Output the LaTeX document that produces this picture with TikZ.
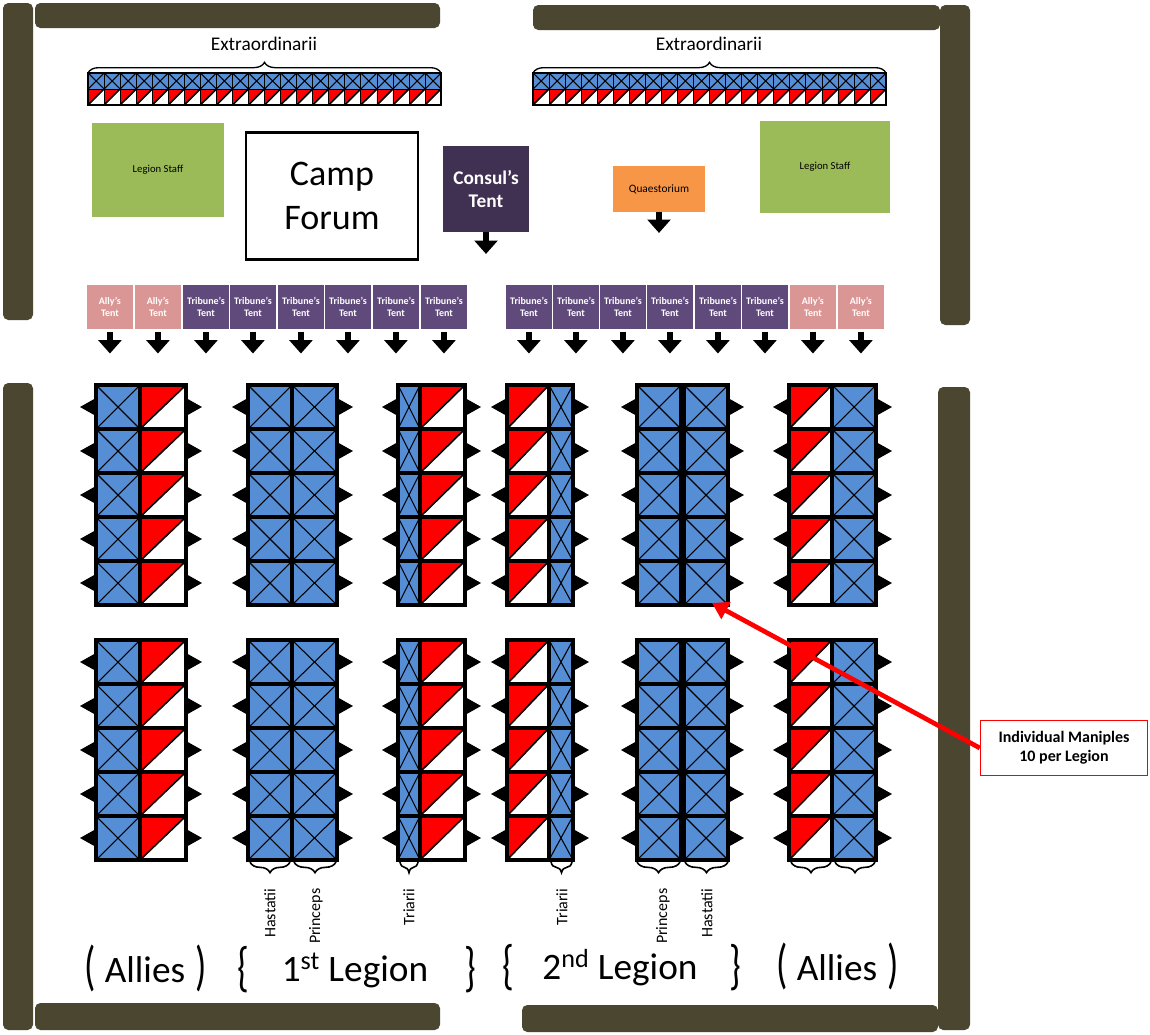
\documentclass[tikz,border=0pt]{standalone}
\usepackage{fontspec}
\setmainfont{Carlito}
\usetikzlibrary{arrows.meta,decorations.pathreplacing,calc}
\definecolor{wall}{HTML}{4B4630}
\definecolor{blu}{HTML}{558ED5}
\definecolor{grn}{HTML}{9BBB59}
\definecolor{purp}{HTML}{604A7B}
\definecolor{dpurp}{HTML}{403152}
\definecolor{pink}{HTML}{D99694}
\definecolor{orng}{HTML}{F79646}
\newcommand\bcell[4]{\fill[blu] (#1,#2) rectangle (#3,#4); \draw[line width=0.8pt] (#1,#2)--(#3,#4) (#1,#4)--(#3,#2);}
\newcommand\rcell[4]{\fill[white] (#1,#2) rectangle (#3,#4); \fill[red] (#1,#2)--(#3,#2)--(#1,#4)--cycle; \draw[line width=1.2pt] (#3,#2)--(#1,#4);}
% column: x1 x2 type(b/r) ytop
\newcommand\mcol[4]{\foreach \k in {0,...,4}{\pgfmathsetmacro\ya{#4+44*\k}\pgfmathsetmacro\yb{#4+44*\k+44}
  \ifx#3b\bcell{#1}{\ya}{#2}{\yb}\else\rcell{#1}{\ya}{#2}{\yb}\fi
  \draw[line width=3pt] (#1,\ya) rectangle (#2,\yb);}}
\newcommand\spikes[3]{\foreach \k in {0,...,4}{\pgfmathsetmacro\yc{#3+22+44*\k}
  \fill (#1,\yc-9)--(#1-16,\yc)--(#1,\yc+9)--cycle; \fill (#2,\yc-9)--(#2+16,\yc)--(#2,\yc+9)--cycle;}}
\begin{document}
\begin{tikzpicture}[x=0.75pt,y=-0.75pt,
  wallr/.style={fill=wall,rounded corners=4pt},
  tent/.style={minimum width=34pt,minimum height=33pt,inner sep=0pt,text=white,font=\fontsize{7.5}{9}\selectfont\bfseries,align=center,anchor=north west},
  darr/.style={-{Triangle[length=10pt,width=17pt]},line width=4pt},
  brc/.style={decorate,decoration={brace,amplitude=8pt},line width=1.2pt},
  lab/.style={rotate=90,anchor=east,font=\fontsize{12}{14}\selectfont},
  big/.style={font=\fontsize{28}{32}\selectfont},
  par/.style={font=\fontsize{28}{32}\selectfont,yscale=1.45}]
\useasboundingbox (0,0) rectangle (1150,1035);
\fill[white] (0,0) rectangle (1150,1035);
% walls
\fill[wallr] (35,3) rectangle (440,28);
\fill[wallr] (3,3) rectangle (33,320);
\fill[wallr] (533,5) rectangle (940,30);
\fill[wallr] (940,5) rectangle (970,325);
\fill[wallr] (3,383) rectangle (33,1030);
\fill[wallr] (35,1003) rectangle (440,1030);
\fill[wallr] (522,1005) rectangle (938,1032);
\fill[wallr] (938,387) rectangle (970,1030);
% extraordinarii
\foreach \xo in {88,533}{
  \foreach \i in {0,...,21}{\pgfmathsetmacro\xa{\xo+16.05*\i}\pgfmathsetmacro\xb{\xo+16.05*\i+16.05}
    \bcell{\xa}{73}{\xb}{89}\rcell{\xa}{89}{\xb}{105}
    \draw[line width=0.6pt] (\xa,73) rectangle (\xb,105) (\xa,89)--(\xb,89);}
  \draw[line width=0.8pt] (\xo,73) rectangle (\xo+353,105);
  \draw[brc,line width=1pt] (\xo,73)--(\xo+353,73);
  \node[font=\fontsize{14.5}{16}\selectfont] at (\xo+176,44) {Extraordinarii};
}
% staff, forum etc
\node[fill=grn,minimum width=99pt,minimum height=70pt,font=\fontsize{8}{9}\selectfont] (ls1) at (158,170) {Legion Staff};
\node[fill=grn,minimum width=98pt,minimum height=69pt,font=\fontsize{8}{9}\selectfont] (ls2) at (825,167) {Legion Staff};
\node[draw,line width=2.2pt,minimum width=129pt,minimum height=95pt,align=center,font=\fontsize{27}{33}\selectfont] (forum) at (332,196) {Camp\\Forum};
\node[fill=dpurp,text=white,minimum width=64pt,minimum height=64pt,align=center,font=\fontsize{14.5}{17}\selectfont\bfseries] (consul) at (486,189) {Consul's\\Tent};
\draw[darr] (consul.south)--++(0,22);
\node[fill=orng,minimum width=69pt,minimum height=34pt,font=\fontsize{8.5}{10}\selectfont] (q) at (659,189) {Quaestorium};
\draw[darr] (q.south)--++(0,21);
% tents
\foreach \x/\t/\c [count=\n] in {87/Ally/pink,135/Ally/pink,183/Tribune/purp,230/Tribune/purp,278/Tribune/purp,325/Tribune/purp,373/Tribune/purp,421/Tribune/purp,506/Tribune/purp,553/Tribune/purp,600/Tribune/purp,647/Tribune/purp,695/Tribune/purp,742/Tribune/purp,790/Ally/pink,838/Ally/pink}{
  \node[tent,fill=\c] (t\n) at (\x,285) {\t's\\Tent};
  \draw[darr] (t\n.south)++(0,2)--++(0,22);
}
% maniples
\foreach \y in {385,640}{
  \mcol{96}{140}{b}{\y}\mcol{140}{186}{r}{\y}\spikes{96}{186}{\y}
  \mcol{248}{292}{b}{\y}\mcol{292}{337}{b}{\y}\spikes{248}{337}{\y}
  \mcol{398}{420}{b}{\y}\mcol{420}{465}{r}{\y}\spikes{398}{465}{\y}
  \mcol{507}{549}{r}{\y}\mcol{549}{573}{b}{\y}\spikes{507}{573}{\y}
  \mcol{637}{681}{b}{\y}\mcol{684}{728}{b}{\y}\spikes{637}{728}{\y}
  \mcol{789}{832}{r}{\y}\mcol{832}{876}{b}{\y}\spikes{789}{876}{\y}
}
% lower braces and labels
\foreach \a/\b in {250/290,294/336,400/418,551/572,637/680,685/728,791/831,835/875}{
  \draw[brc] (\b,862)--(\a,862);}
\node[lab] at (270,884) {Hastatii};
\node[lab] at (316,884) {Princeps};
\node[lab] at (409,884) {Triarii};
\node[lab] at (562,884) {Triarii};
\node[lab] at (663,884) {Princeps};
\node[lab] at (707,884) {Hastatii};
% bottom labels
\node[big] at (145,970) {Allies};
\node[par] at (90,968) {(};
\node[par] at (201,968) {)};
\node[big] at (837,968) {Allies};
\node[par] at (782,966) {(};
\node[par] at (893,966) {)};
\node[par] at (243,970) {\{};
\node[par] at (470,970) {\}};
\node[big] at (355,970) {1\textsuperscript{st} Legion};
\node[par] at (508,968) {\{};
\node[par] at (735,968) {\}};
\node[big] at (620,968) {2\textsuperscript{nd} Legion};
% callout
\node[draw=red,line width=1.2pt,fill=white,minimum width=125pt,minimum height=41pt,align=center,font=\fontsize{12}{14}\selectfont\bfseries] (call) at (1064,748) {Individual Maniples\\10 per Legion};
\coordinate (tip) at (712,603);
\draw[red,line width=3.5pt,-{Triangle[length=12pt,width=14pt]}] (call.west)--(tip);
\end{tikzpicture}
\end{document}
